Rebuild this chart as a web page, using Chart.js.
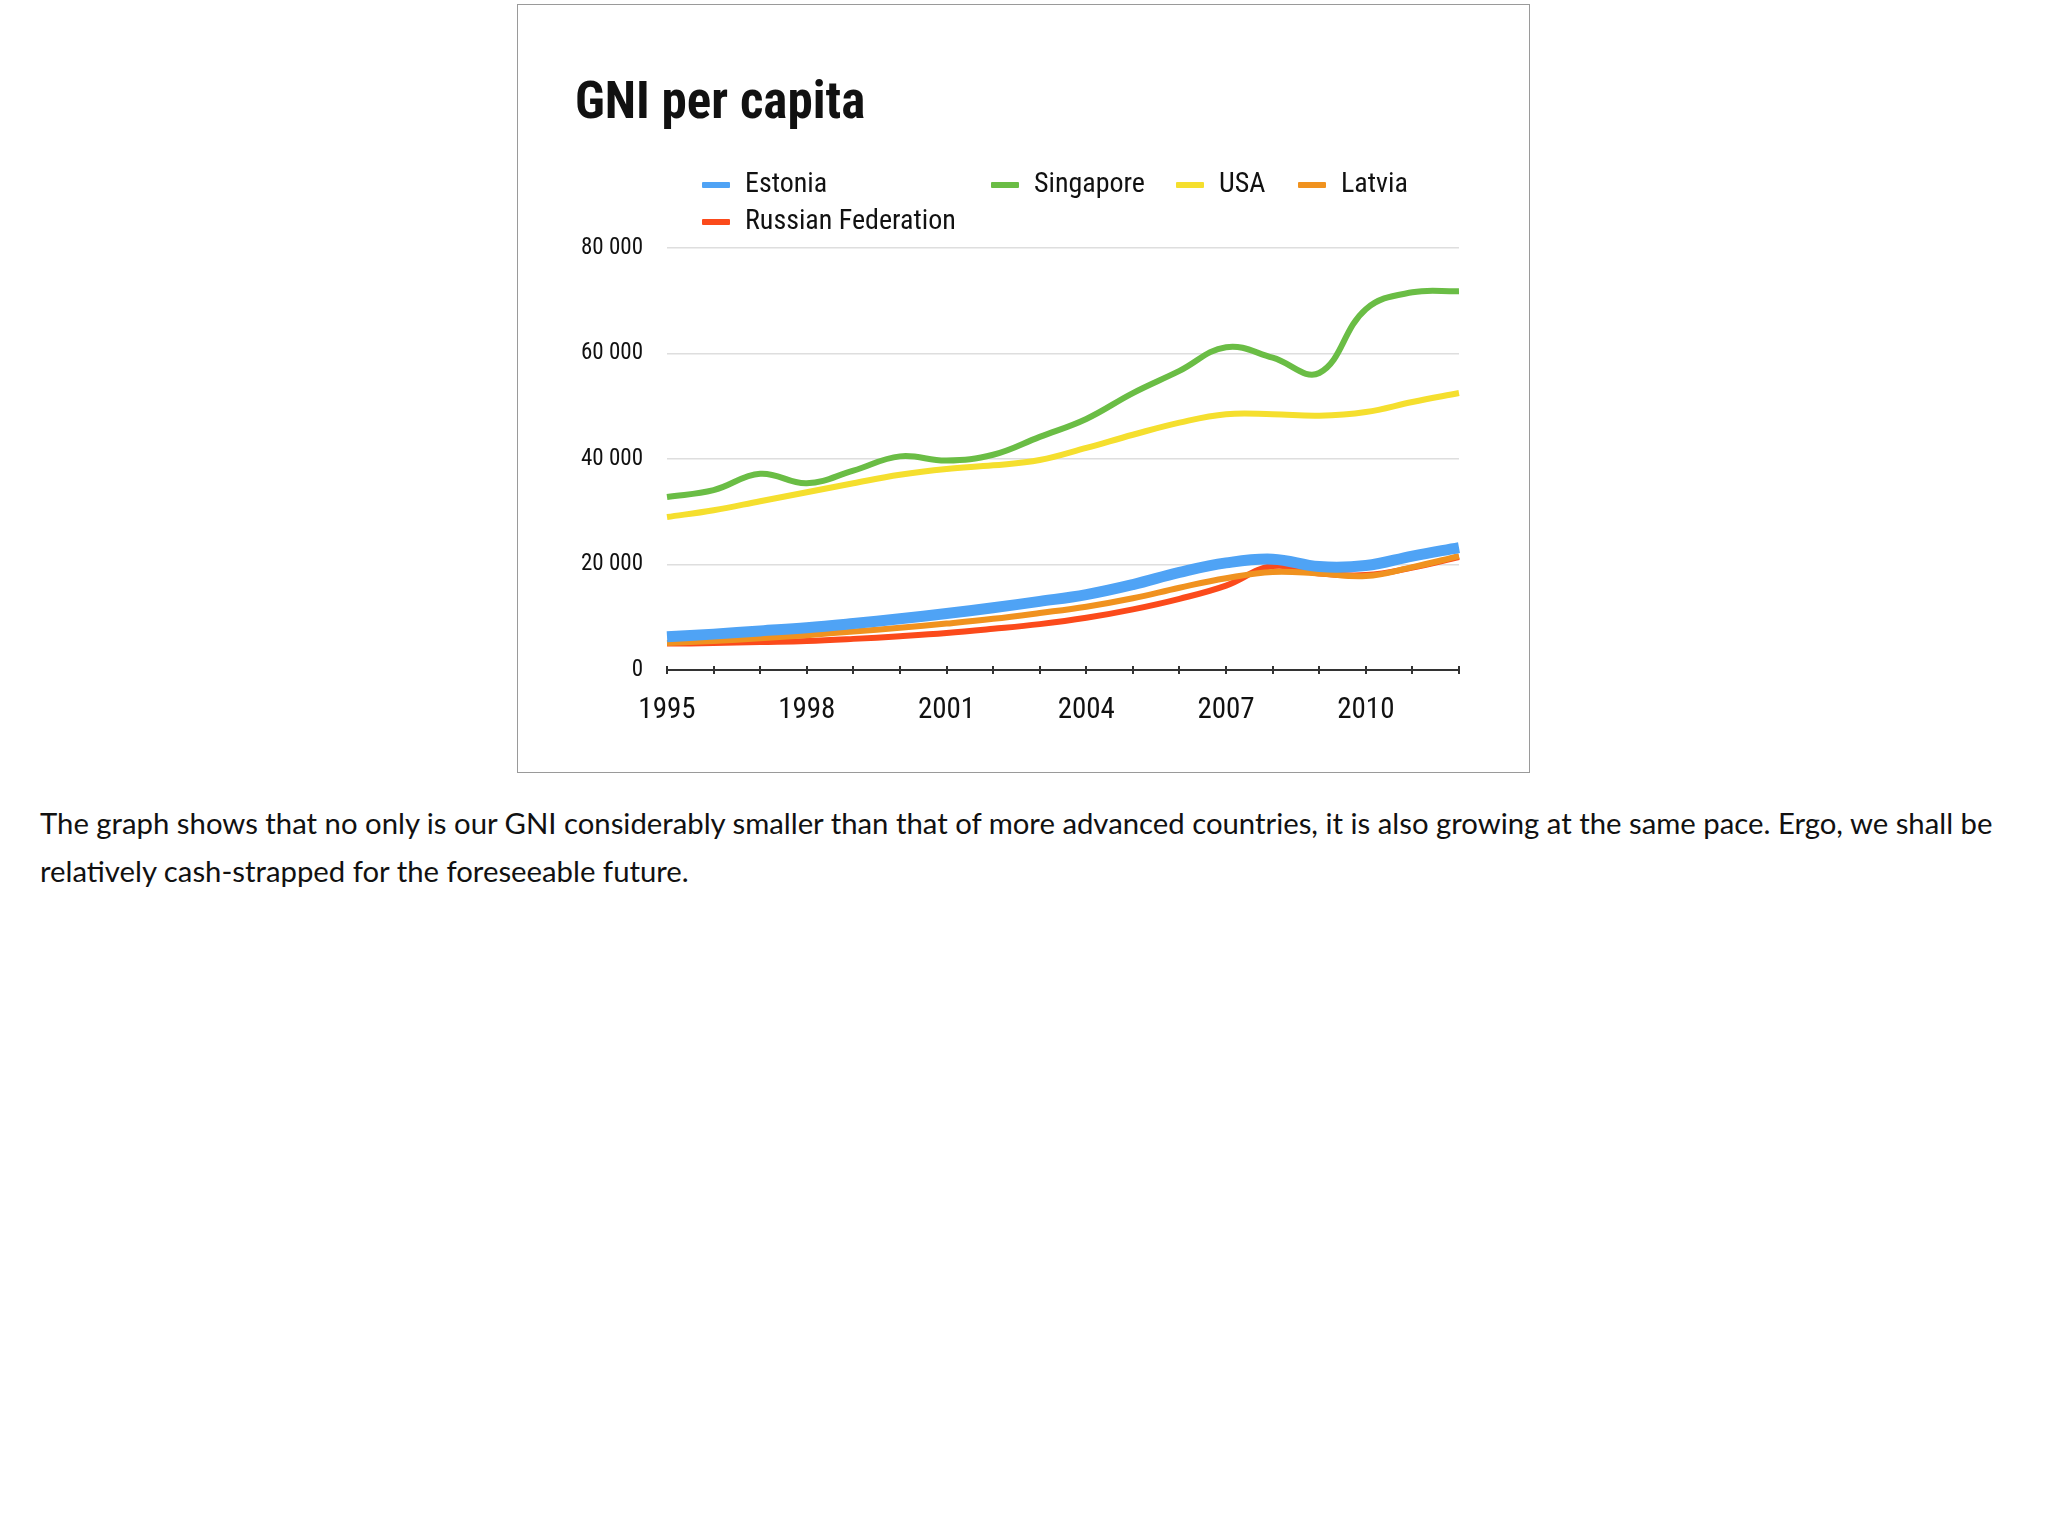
<!DOCTYPE html>
<html>
<head>
<meta charset="utf-8">
<script src="https://cdn.jsdelivr.net/npm/chart.js@4.4.1/dist/chart.umd.min.js"></script>
<style>
  html, body { margin: 0; padding: 0; background: #fff; }
  body { width: 2048px; height: 1527px; position: relative; overflow: hidden; }
  .cond { font-family: "Roboto Condensed", Roboto, sans-serif; font-stretch: 75%; color: #111; }
  #box { position: absolute; left: 517px; top: 4px; width: 1011px; height: 767px; border: 1px solid #9a9a9a; }
  #wrap { position: absolute; left: 0; top: 0; width: 1011px; height: 767px; }
  #title { position: absolute; left: 57px; top: 70px; font-size: 51px; font-weight: bold; line-height: 1; white-space: nowrap; }
  .leg { position: absolute; font-size: 28px; line-height: 1; white-space: nowrap; }
  .leg i { position: absolute; left: 0; width: 28px; height: 6px; border-radius: 1px; }
  .leg span { position: absolute; top: -13px; }
  #note { position: absolute; left: 40px; top: 799px; font-family: Lato, "Noto Sans", sans-serif; font-size: 29.3px; line-height: 48px; color: #111; white-space: nowrap; }
</style>
</head>
<body>
<div id="box">
  <div id="wrap"><canvas id="c"></canvas></div>
  <div id="title" class="cond">GNI per capita</div>
  <div id="legend" class="cond"></div>
</div>
<div id="note">The graph shows that no only is our GNI considerably smaller than that of more advanced countries, it is also growing at the same pace. Ergo, we shall be<br>relatively cash-strapped for the foreseeable future.</div>
<script>
const years = ['1995', '1996', '1997', '1998', '1999', '2000', '2001', '2002', '2003',
  '2004', '2005', '2006', '2007', '2008', '2009', '2010', '2011', '2012'];

const estonia = [6300, 6800, 7400, 8000, 8800, 9700, 10700, 11800, 13000,
  14300, 16200, 18500, 20300, 21000, 19600, 19800, 21600, 23200];
const singapore = [32800, 34100, 37200, 35400, 37800, 40500, 39700, 40800, 44200,
  47600, 52500, 56700, 61200, 59200, 56300, 68400, 71600, 71800];
const usa = [29000, 30300, 32000, 33700, 35400, 37000, 38100, 38800, 39800,
  42100, 44600, 46900, 48500, 48500, 48200, 48900, 50800, 52500];
const latvia = [5100, 5500, 6000, 6600, 7300, 8000, 8800, 9700, 10800,
  12000, 13600, 15600, 17400, 18600, 18300, 17800, 19500, 21600];
const russia = [5000, 5100, 5300, 5500, 5900, 6400, 7000, 7800, 8700,
  9900, 11500, 13500, 16000, 19700, 18300, 18000, 19400, 21400];

const yTicks = [0, 20000, 40000, 60000, 80000];
const labelEvery = 3;

const COND = '"Roboto Condensed", Roboto, sans-serif';

// legend is laid out like the original (two columns on the left)
const legendItems = [
  { name: 'Estonia', color: '#4fa3f5', x: 184, y: 177 },
  { name: 'Singapore', color: '#6abd45', x: 473, y: 177 },
  { name: 'USA', color: '#f5df2e', x: 658, y: 177 },
  { name: 'Latvia', color: '#f0921f', x: 780, y: 177 },
  { name: 'Russian Federation', color: '#fb4a1b', x: 184, y: 214 }
];
const legendEl = document.getElementById('legend');
legendItems.forEach(it => {
  const d = document.createElement('div');
  d.className = 'leg';
  d.style.left = it.x + 'px';
  d.style.top = it.y + 'px';
  d.innerHTML = '<i style="background:' + it.color + '"></i><span style="left:43px">' + it.name + '</span>';
  legendEl.appendChild(d);
});

function series(label, data, color, width) {
  return {
    label: label,
    data: data,
    borderColor: color,
    backgroundColor: color,
    borderWidth: width,
    pointRadius: 0,
    tension: 0.4,
    fill: false
  };
}

// small tick marks crossing the x axis line
const axisTicks = {
  id: 'axisTicks',
  afterDraw(chart) {
    const sx = chart.scales.x;
    const y = chart.chartArea.bottom;
    const ctx = chart.ctx;
    ctx.save();
    ctx.strokeStyle = '#333';
    ctx.lineWidth = 2;
    sx.ticks.forEach((t, i) => {
      const px = Math.round(sx.getPixelForTick(i));
      ctx.beginPath();
      ctx.moveTo(px, y - 4);
      ctx.lineTo(px, y + 4);
      ctx.stroke();
    });
    ctx.restore();
  }
};

new Chart(document.getElementById('c'), {
  type: 'line',
  data: {
    labels: years,
    datasets: [
      series('Estonia', estonia, '#4fa3f5', 11),
      series('Singapore', singapore, '#6abd45', 6),
      series('USA', usa, '#f5df2e', 6),
      series('Latvia', latvia, '#f0921f', 6),
      series('Russian Federation', russia, '#fb4a1b', 6)
    ]
  },
  plugins: [axisTicks],
  options: {
    responsive: true,
    maintainAspectRatio: false,
    animation: false,
    layout: { padding: { left: 0, right: 70, top: 243, bottom: 0 } },
    plugins: { legend: { display: false }, tooltip: { enabled: false } },
    scales: {
      x: {
        offset: false,
        grid: { display: false, drawTicks: false },
        border: { display: true, color: '#333', width: 2 },
        ticks: {
          autoSkip: false,
          maxRotation: 0,
          padding: 23,
          color: '#111',
          font: { family: COND, size: 29 },
          callback: function (v, i) { return i % labelEvery === 0 ? years[i] : ''; }
        },
        afterFit: s => { s.height = 102; }
      },
      y: {
        min: 0,
        max: 80000,
        afterBuildTicks: s => { s.ticks = yTicks.map(v => ({ value: v })); },
        grid: { color: '#dedede', lineWidth: 1.5, drawTicks: false },
        border: { display: false },
        ticks: {
          padding: 24,
          color: '#111',
          font: { family: COND, size: 23 },
          callback: v => v === 0 ? '0' : (v / 1000) + ' 000'
        },
        afterFit: s => { s.width = 149; }
      }
    }
  }
});
</script>
</body>
</html>
